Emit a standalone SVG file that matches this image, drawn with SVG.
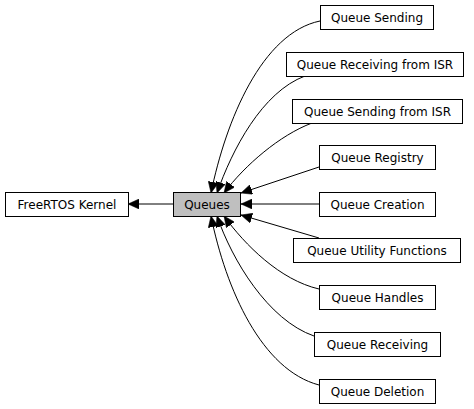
<svg xmlns="http://www.w3.org/2000/svg" width="474" height="409" viewBox="0 0 474 409">
<style>
rect{fill:#fff;stroke:#000;stroke-width:1}
rect.cur{fill:#bfbfbf}
text{font-family:"DejaVu Sans",sans-serif;font-size:12px;text-anchor:middle;fill:#000}
.e path{fill:none;stroke:#000;stroke-width:1;marker-end:url(#ah)}
</style>
<defs>
<marker id="ah" markerUnits="userSpaceOnUse" viewBox="0 0 11 10" refX="11" refY="5" markerWidth="11" markerHeight="10" orient="auto">
<path d="M0,0 L11,5 L0,10 z" fill="#000" stroke="#000" stroke-width="0.5"/>
</marker>
</defs>
<g id="edges" class="e">
<path d="M173,204 L128,204"/>
<path d="M320,21 C262,33 226,120 211,193"/>
<path d="M305,76 C262,92 232,150 217,193"/>
<path d="M312,123 C280,135 245,165 224,193"/>
<path d="M319,167 L241,193"/>
<path d="M319,204 L241,204"/>
<path d="M319,238 L241,215"/>
<path d="M319,289 C280,280 245,245 224,216"/>
<path d="M314,336 C268,320 232,260 217,216"/>
<path d="M319,385 C262,370 226,290 211,216"/>
</g>
<g id="kernel"><rect x="5.5" y="192.5" width="123" height="24"/><text x="67" y="208.5">FreeRTOS Kernel</text></g>
<g id="queues"><rect class="cur" x="173.5" y="192.5" width="67" height="24"/><text x="207" y="208.5">Queues</text></g>
<g id="sending"><rect x="320.5" y="5.5" width="113" height="24"/><text x="377" y="21.5">Queue Sending</text></g>
<g id="recvisr"><rect x="286.5" y="52.5" width="177" height="24"/><text x="375" y="68.5">Queue Receiving from ISR</text></g>
<g id="sendisr"><rect x="292.5" y="99.5" width="170" height="24"/><text x="377.5" y="115.5">Queue Sending from ISR</text></g>
<g id="registry"><rect x="319.5" y="145.5" width="116" height="24"/><text x="377.5" y="161.5">Queue Registry</text></g>
<g id="creation"><rect x="319.5" y="192.5" width="116" height="24"/><text x="377.5" y="208.5">Queue Creation</text></g>
<g id="utility"><rect x="293.5" y="238.5" width="167" height="24"/><text x="377" y="254.5">Queue Utility Functions</text></g>
<g id="handles"><rect x="319.5" y="285.5" width="116" height="24"/><text x="377.5" y="301.5">Queue Handles</text></g>
<g id="receiving"><rect x="314.5" y="332.5" width="126" height="24"/><text x="377.5" y="348.5">Queue Receiving</text></g>
<g id="deletion"><rect x="319.5" y="379.5" width="116" height="24"/><text x="377.5" y="395.5">Queue Deletion</text></g>
</svg>
